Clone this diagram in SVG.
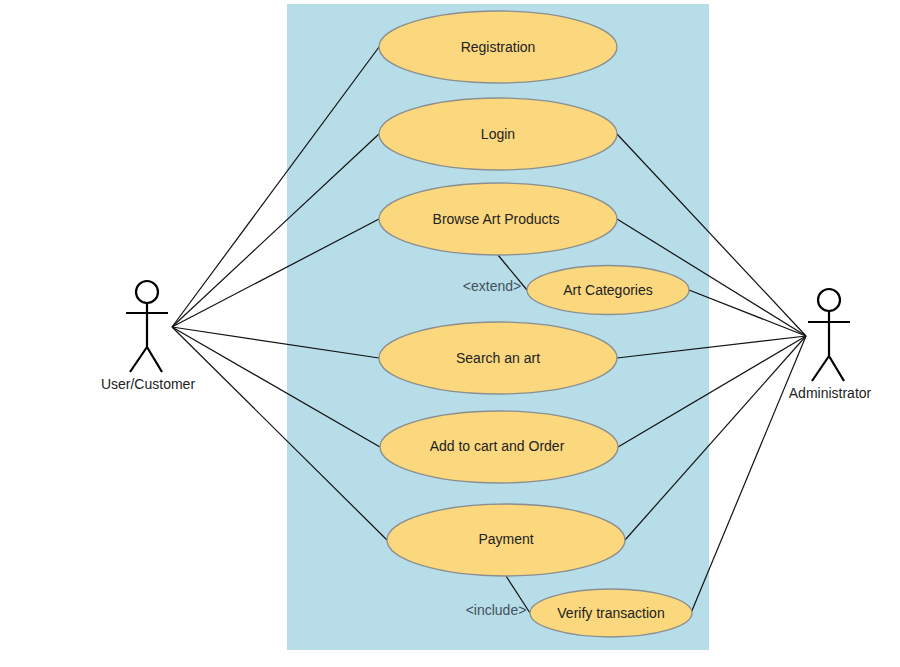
<svg xmlns="http://www.w3.org/2000/svg" width="900" height="667" viewBox="0 0 900 667">
<style>
text{font-family:"Liberation Sans",Arial,sans-serif;font-size:14px;fill:#222;text-anchor:middle}
.uc{fill:#fbd87e;stroke:#8a8f8f;stroke-width:1.3}
.conn line{stroke:#111;stroke-width:1.2}
.actor{fill:none;stroke:#000;stroke-width:2.2}
.lbl{fill:#44525c}
</style>
<rect width="900" height="667" fill="#fff"/>
<rect id="boundary" x="287" y="4" width="422" height="646" fill="#b7dde8"/>
<g id="connectors" class="conn">
<line x1="172" y1="327" x2="379" y2="47"/>
<line x1="172" y1="327" x2="379" y2="134"/>
<line x1="172" y1="327" x2="379" y2="219"/>
<line x1="172" y1="327" x2="379" y2="358"/>
<line x1="172" y1="327" x2="380" y2="447"/>
<line x1="172" y1="327" x2="387" y2="540"/>
<line x1="806" y1="336" x2="617" y2="134"/>
<line x1="806" y1="336" x2="617" y2="219"/>
<line x1="806" y1="336" x2="689" y2="290"/>
<line x1="806" y1="336" x2="617" y2="358"/>
<line x1="806" y1="336" x2="618" y2="447"/>
<line x1="806" y1="336" x2="625" y2="540"/>
<line x1="806" y1="336" x2="691" y2="613"/>
<line x1="498" y1="255" x2="527" y2="290"/>
<line x1="506" y1="576" x2="530" y2="613"/>
</g>
<g id="registration"><ellipse class="uc" cx="498" cy="47" rx="119" ry="36"/><text x="498" y="52">Registration</text></g>
<g id="login"><ellipse class="uc" cx="498" cy="134" rx="119" ry="36"/><text x="498" y="139">Login</text></g>
<g id="browse"><ellipse class="uc" cx="498" cy="219" rx="119" ry="36"/><text x="496" y="224">Browse Art Products</text></g>
<g id="categories"><ellipse class="uc" cx="608" cy="290" rx="81" ry="24.500"/><text x="608" y="295">Art Categories</text></g>
<g id="search"><ellipse class="uc" cx="498" cy="358" rx="119" ry="36"/><text x="498" y="363">Search an art</text></g>
<g id="cart"><ellipse class="uc" cx="499" cy="447" rx="119" ry="36"/><text x="497" y="451">Add to cart and Order</text></g>
<g id="payment"><ellipse class="uc" cx="506" cy="540" rx="119" ry="36"/><text x="506" y="544">Payment</text></g>
<g id="verify"><ellipse class="uc" cx="611" cy="613" rx="81" ry="24"/><text x="611" y="618">Verify transaction</text></g>
<g id="extend-label"><text class="lbl" x="492" y="291">&lt;extend&gt;</text></g>
<g id="include-label"><text class="lbl" x="496" y="615">&lt;include&gt;</text></g>
<g id="user">
<circle class="actor" cx="147" cy="292" r="11"/>
<path class="actor" d="M147 303V347M126 313H168M147 347L130 372M147 347L162 372"/>
<text x="148" y="389">User/Customer</text>
</g>
<g id="admin">
<circle class="actor" cx="829" cy="300" r="11"/>
<path class="actor" d="M829 311V356M808 322H850M829 356L812 381M829 356L844 381"/>
<text x="830" y="398">Administrator</text>
</g>
</svg>
